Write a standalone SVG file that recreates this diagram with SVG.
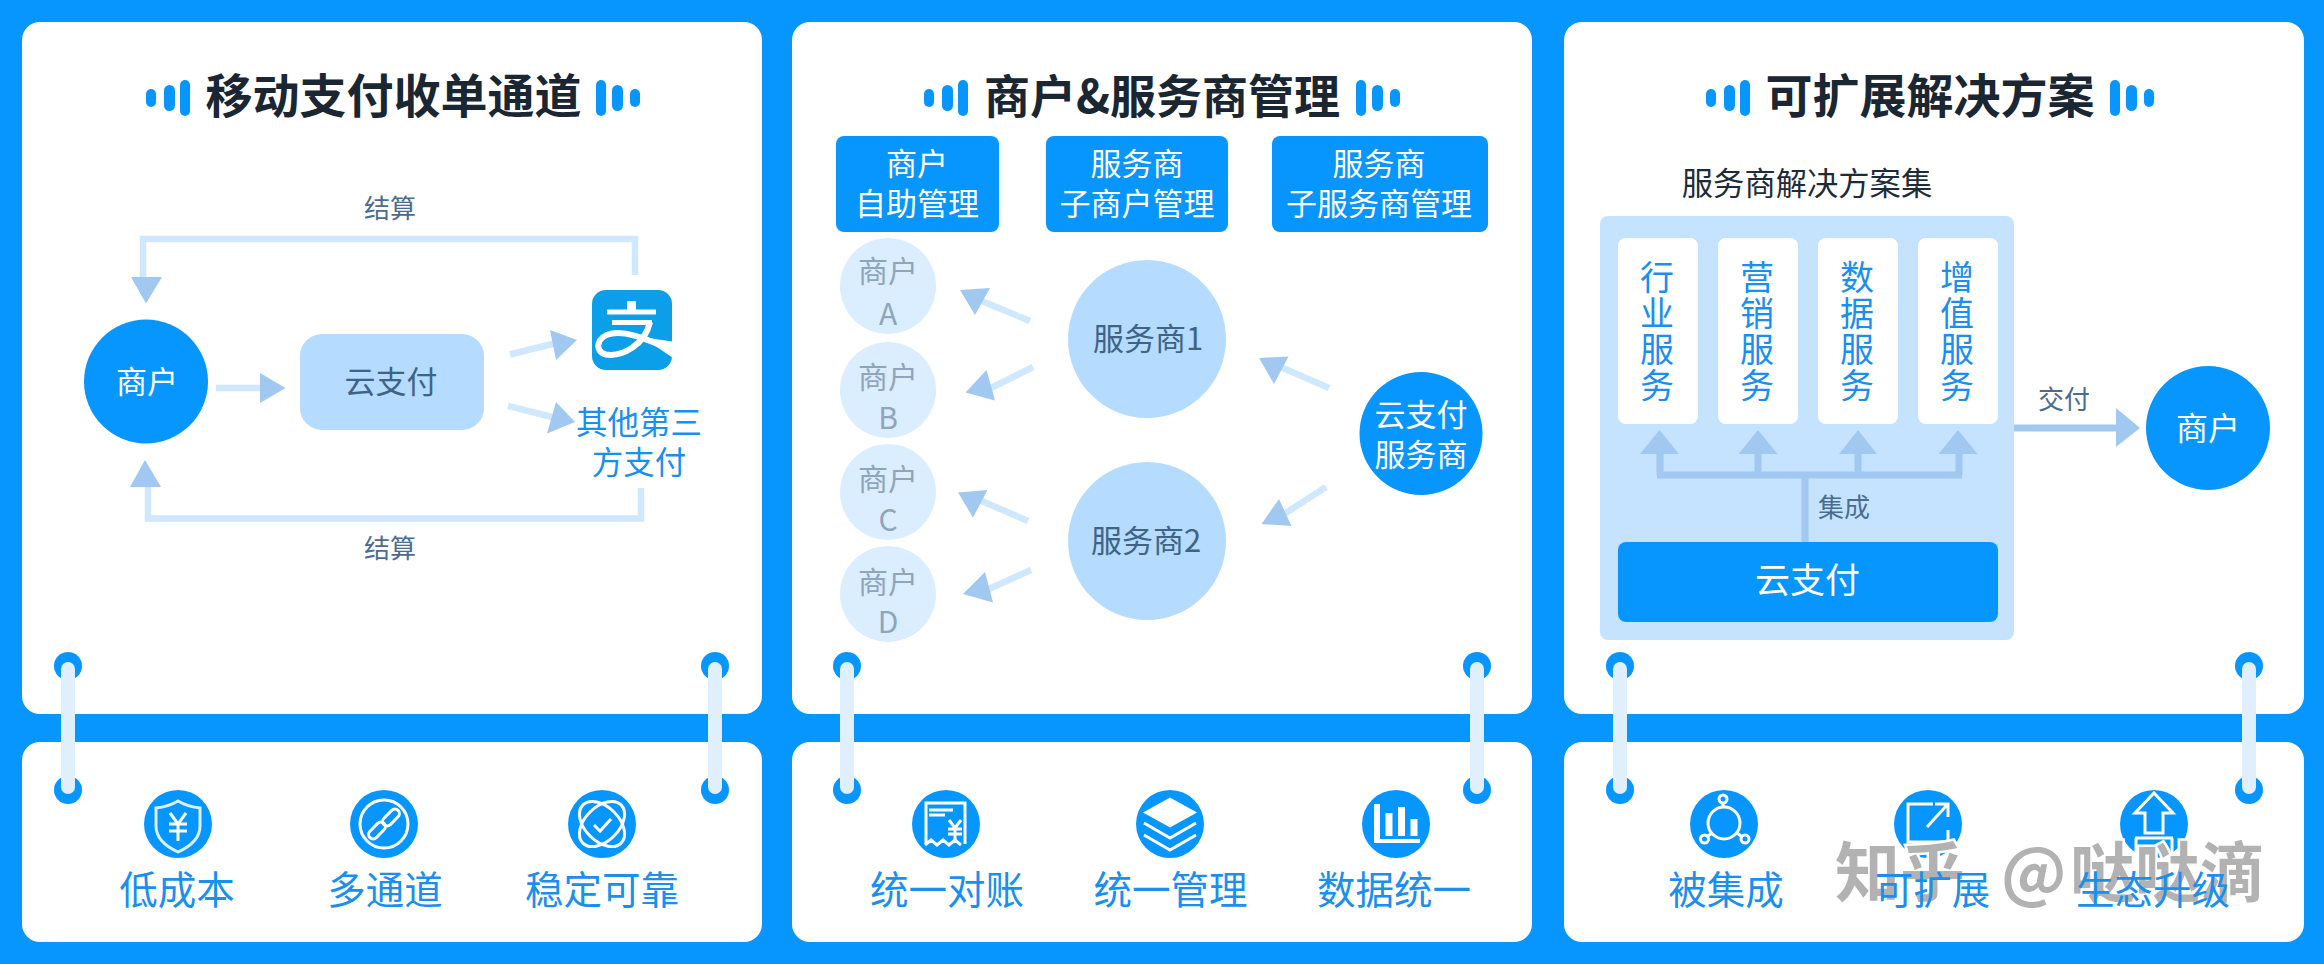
<svg xmlns="http://www.w3.org/2000/svg" width="2324" height="964" viewBox="0 0 2324 964">
<style>
text{font-family:"Noto Sans CJK SC","Noto Sans",sans-serif;text-anchor:middle}
.panel{fill:#fff}
.title{font-size:47px;font-weight:700;fill:#1a2632}
.pill{fill:#0795fe}
.blue{fill:#0795fe}
.lite{fill:#b5dcfe}
.pale{fill:#dbeeff}
.bar{fill:#e0effd}
.w{fill:#fff;font-size:31px}
.d{fill:#3f6387;font-size:31px}
.g{fill:#8fa5bb;font-size:30px}
.note{fill:#4a6d8f;font-size:26px}
.lab{fill:#1a8fee;font-size:38.5px}
.svc{fill:#1a8fee;font-size:34px}
.sub{fill:#1d2b3a;font-size:31.3px}
.st{fill:none;stroke:#cfe8fd;stroke-width:6.5}
.st2{fill:none;stroke:#a0c8f0;stroke-width:7}
.hd{fill:#a0c8f0}
.ic{fill:none;stroke:#fff;stroke-width:3}
.icf{fill:#fff}
.wm{font-size:65px;font-weight:700;text-anchor:start;fill:#b2b2b2;stroke:#fff;stroke-width:5px;paint-order:stroke}
.other{fill:#1a8fee;font-size:31.5px}
</style>
<defs>
<g id="pillsL"><rect class="pill" x="0" y="-9" width="10" height="18" rx="5"/><rect class="pill" x="18" y="-13" width="11" height="26" rx="5.5"/><rect class="pill" x="34" y="-18" width="10" height="36" rx="5"/></g>
<g id="pillsR"><rect class="pill" x="0" y="-18" width="10" height="36" rx="5"/><rect class="pill" x="16" y="-13" width="11" height="26" rx="5.5"/><rect class="pill" x="34" y="-9" width="10" height="18" rx="5"/></g>
<g id="ring"><circle class="blue" cx="0" cy="666" r="14"/><circle class="blue" cx="0" cy="790" r="14"/><rect class="bar" x="-7" y="662" width="14" height="132" rx="7"/></g>
<clipPath id="aliclip"><rect x="592" y="290" width="80" height="80" rx="14"/></clipPath>
</defs>
<rect width="2324" height="964" class="blue"/>
<g id="panels">
<rect class="panel" x="22" y="22" width="740" height="692" rx="18"/>
<rect class="panel" x="792" y="22" width="740" height="692" rx="18"/>
<rect class="panel" x="1564" y="22" width="740" height="692" rx="18"/>
<rect class="panel" x="22" y="742" width="740" height="200" rx="18"/>
<rect class="panel" x="792" y="742" width="740" height="200" rx="18"/>
<rect class="panel" x="1564" y="742" width="740" height="200" rx="18"/>
</g>
<g id="rings">
<use href="#ring" x="68"/><use href="#ring" x="715"/>
<use href="#ring" x="847"/><use href="#ring" x="1477"/>
<use href="#ring" x="1620"/><use href="#ring" x="2249"/>
</g>
<g id="titles">
<use href="#pillsL" x="146" y="98"/><text class="title" x="393.5" y="113">移动支付收单通道</text><use href="#pillsR" x="596" y="98"/>
<use href="#pillsL" x="924" y="98"/><text class="title" style="font-size:46px" x="1162" y="113">商户&amp;服务商管理</text><use href="#pillsR" x="1356" y="98"/>
<use href="#pillsL" x="1706" y="98"/><text class="title" x="1930" y="113">可扩展解决方案</text><use href="#pillsR" x="2110" y="98"/>
</g>
<g id="connectors">
<path class="st" d="M635 275V239H143V278"/><polygon class="hd" points="131,277 162,277 146,303.5"/>
<path class="st" d="M641 488V518.5H148V486"/><polygon class="hd" points="130,487 161,487 145,460"/>
<path class="st" d="M216 388H262"/><polygon class="hd" points="260,373 260,403 285.5,388"/>
<path class="st" d="M510 354.5L556 343"/><polygon class="hd" points="550,330 577,340 556,360"/>
<path class="st" d="M508 406L556 418"/><polygon class="hd" points="556,402 575,422 547,433.5"/>
<path class="st" d="M1030 321L977 299"/><polygon class="hd" points="960,290 990,288 975,315"/>
<path class="st" d="M1033 367L985 391"/><polygon class="hd" points="965.5,392.5 986.5,370 995,400.5"/>
<path class="st" d="M1028 521L975 498"/><polygon class="hd" points="958,492.5 987.5,490 973,517.5"/>
<path class="st" d="M1031 570L982 592"/><polygon class="hd" points="963,594 985,572 993,602.5"/>
<path class="st" d="M1329 388L1276 365"/><polygon class="hd" points="1259,358 1288.5,356.5 1274,384"/>
<path class="st" d="M1326 487L1278 518"/><polygon class="hd" points="1261.5,524 1279,499 1291.5,526"/>
</g>
<g id="merchant1"><circle class="blue" cx="146" cy="381.5" r="62"/><text class="w" x="147" y="393">商户</text></g>
<g id="yunzhifu1"><rect class="lite" x="300" y="334" width="184" height="96" rx="22"/><text class="d" x="391" y="393">云支付</text></g>
<g id="alipay"><rect fill="#0a9fe8" x="592" y="290" width="80" height="80" rx="14"/>
<g clip-path="url(#aliclip)"><rect class="icf" x="627" y="301" width="9" height="11"/><rect class="icf" x="607" y="309.5" width="49" height="5"/><rect class="icf" x="612" y="320" width="40" height="5"/>
<path fill="none" stroke="#fff" stroke-width="6" d="M650 322C645 345 622 357 606 354.500C594 352 596 336 612 333.500C628 331 645 339 673 350"/><polygon class="icf" points="642,337 676,342 676,360"/></g></g>
<g id="otherpay"><text class="other" x="639" y="434">其他第三</text><text class="other" x="639" y="474">方支付</text></g>
<g id="settle1"><text class="note" x="390" y="218">结算</text></g>
<g id="settle2"><text class="note" x="390" y="558">结算</text></g>
<g id="f1"><circle class="blue" cx="178" cy="824" r="34"/>
<path class="ic" stroke-opacity=".85" d="M178 801Q188 807 200 808V826Q200 842 178 852Q156 842 156 826V808Q168 807 178 801Z"/>
<path class="ic" d="M170 813L178 824L186 813M169 824H187M169 831H187M178 824V841"/>
<text class="lab" x="177" y="904">低成本</text></g>
<g id="f2"><circle class="blue" cx="384" cy="824" r="34"/><circle class="ic" cx="384" cy="824" r="24"/>
<rect class="ic" x="367" y="826" width="20" height="9" rx="4.500" transform="rotate(-45 377 830.500)"/><rect class="ic" x="381" y="813" width="20" height="9" rx="4.500" transform="rotate(-45 391 817.500)"/>
<text class="lab" x="385" y="904">多通道</text></g>
<g id="f3"><circle class="blue" cx="602" cy="824" r="34"/><ellipse class="ic" cx="602" cy="824" rx="27" ry="17" transform="rotate(45 602 824)"/><ellipse class="ic" cx="602" cy="824" rx="27" ry="17" transform="rotate(-45 602 824)"/><path class="ic" d="M594 825L600 831L611 819"/>
<text class="lab" x="602" y="904">稳定可靠</text></g>
<g id="btn1"><rect class="blue" x="836" y="136" width="163" height="96" rx="8"/><text class="w" x="917" y="175">商户</text><text class="w" x="917" y="215">自助管理</text></g>
<g id="btn2"><rect class="blue" x="1046" y="136" width="182" height="96" rx="8"/><text class="w" x="1137" y="175">服务商</text><text class="w" x="1137" y="215">子商户管理</text></g>
<g id="btn3"><rect class="blue" x="1272" y="136" width="216" height="96" rx="8"/><text class="w" x="1379" y="175">服务商</text><text class="w" x="1379" y="215">子服务商管理</text></g>
<g id="mA"><circle class="pale" cx="888" cy="286" r="48"/><text class="g" x="888" y="282">商户</text><text class="g" x="888" y="324.500">A</text></g>
<g id="mB"><circle class="pale" cx="888" cy="390" r="48"/><text class="g" x="888" y="388">商户</text><text class="g" x="888" y="429">B</text></g>
<g id="mC"><circle class="pale" cx="888" cy="492" r="48"/><text class="g" x="888" y="489.500">商户</text><text class="g" x="888" y="530.500">C</text></g>
<g id="mD"><circle class="pale" cx="888" cy="594" r="48"/><text class="g" x="888" y="592.500">商户</text><text class="g" x="888" y="632.500">D</text></g>
<g id="sp1"><circle class="lite" cx="1147" cy="339" r="79"/><text class="d" x="1148" y="350">服务商1</text></g>
<g id="sp2"><circle class="lite" cx="1147" cy="541" r="79"/><text class="d" x="1146" y="552">服务商2</text></g>
<g id="cloudsp"><circle class="blue" cx="1421" cy="433.500" r="61.500"/><text class="w" x="1421" y="425.500">云支付</text><text class="w" x="1421" y="465.500">服务商</text></g>
<g id="f4"><circle class="blue" cx="946" cy="824" r="34"/>
<path class="ic" d="M926 844V803H965V844"/><path class="ic" stroke-width="2.500" d="M925 845L931 840L937 845L943 840L949 845L955 840L961 845"/><path class="ic" d="M929 810H953M929 815H945"/><path class="ic" d="M949 820L955 828L961 820M948 829H962M948 834H962M955 828V841"/>
<text class="lab" x="947" y="904">统一对账</text></g>
<g id="f5"><circle class="blue" cx="1170" cy="824" r="34"/><polygon class="icf" points="1170,797.500 1197,812.500 1170,827.500 1143,812.500"/>
<path class="ic" stroke-width="4" d="M1144 823L1170 838L1196 823M1144 835L1170 850L1196 835"/>
<text class="lab" x="1170.500" y="904">统一管理</text></g>
<g id="f6"><circle class="blue" cx="1396" cy="824" r="34"/><path class="icf" d="M1374 804H1380V839H1420V843H1374Z"/><rect class="icf" x="1385.500" y="813" width="7" height="23"/><rect class="icf" x="1398" y="807" width="7" height="29"/><rect class="icf" x="1410.500" y="819" width="7" height="17"/>
<text class="lab" x="1394" y="904">数据统一</text></g>
<g id="solset"><text class="sub" x="1807" y="195">服务商解决方案集</text></g>
<g id="solbox"><rect fill="#c5e3fe" x="1600" y="216" width="414" height="424" rx="8"/></g>
<g id="svc1"><rect class="panel" x="1618" y="238" width="80" height="186" rx="8"/><text class="svc" x="1657" y="290">行</text><text class="svc" x="1657" y="326">业</text><text class="svc" x="1657" y="362">服</text><text class="svc" x="1657" y="398">务</text></g>
<g id="svc2"><rect class="panel" x="1718" y="238" width="80" height="186" rx="8"/><text class="svc" x="1757" y="290">营</text><text class="svc" x="1757" y="326">销</text><text class="svc" x="1757" y="362">服</text><text class="svc" x="1757" y="398">务</text></g>
<g id="svc3"><rect class="panel" x="1818" y="238" width="80" height="186" rx="8"/><text class="svc" x="1857" y="290">数</text><text class="svc" x="1857" y="326">据</text><text class="svc" x="1857" y="362">服</text><text class="svc" x="1857" y="398">务</text></g>
<g id="svc4"><rect class="panel" x="1918" y="238" width="80" height="186" rx="8"/><text class="svc" x="1957" y="290">增</text><text class="svc" x="1957" y="326">值</text><text class="svc" x="1957" y="362">服</text><text class="svc" x="1957" y="398">务</text></g>
<g id="connectors3">
<path class="st2" d="M1805 542V475M1657 475H1962M1660 475V452M1758 475V452M1858 475V452M1959 475V452"/>
<polygon class="hd" points="1640,454 1679,454 1659.500,430"/><polygon class="hd" points="1738.500,454 1777.500,454 1758,430"/><polygon class="hd" points="1839,454 1877,454 1858,430"/><polygon class="hd" points="1938.500,454 1977.500,454 1958,430"/>
<path class="st2" d="M2014 428H2118"/><polygon class="hd" points="2116,408 2116,447 2140,428"/>
</g>
<g id="integrate"><text class="note" x="1844" y="517">集成</text></g>
<g id="deliver"><text class="note" x="2064" y="409">交付</text></g>
<g id="yunzhifu3"><rect class="blue" x="1618" y="542" width="380" height="80" rx="8"/><text class="w" style="font-size:35px" x="1807.500" y="593">云支付</text></g>
<g id="merchant3"><circle class="blue" cx="2208" cy="428" r="62"/><text class="w" style="font-size:32px" x="2208" y="440">商户</text></g>
<g id="f7"><circle class="blue" cx="1724" cy="824" r="34"/><circle class="ic" cx="1724" cy="823" r="16"/><circle class="ic" cx="1723" cy="799" r="4"/><circle class="ic" cx="1704.500" cy="839" r="4"/><circle class="ic" cx="1745" cy="839" r="4"/><path class="ic" d="M1723 803V807M1708 836L1712 833M1741 836L1737 833"/>
<text class="lab" x="1726" y="904">被集成</text></g>
<g id="f8icon"><circle class="blue" cx="1928" cy="824" r="34"/><path class="ic" stroke-width="4" d="M1933 804H1908V842H1948V830"/><path class="ic" d="M1927 827L1947 805M1935 804H1948V817"/></g>
<g id="f9icon"><circle class="blue" cx="2154" cy="824" r="34"/><path class="ic" stroke-width="3.500" d="M2154 793L2173 813H2163V833H2145V813H2135Z"/><path class="ic" d="M2135 838H2173M2136 838V856M2172 838V856"/></g>
<g id="watermark"><text class="wm" y="896"><tspan x="1835">知乎</tspan><tspan x="2001">@</tspan><tspan x="2070">哒哒滴</tspan></text></g>
<g id="f8"><text class="lab" x="1932.500" y="904">可扩展</text></g>
<g id="f9"><text class="lab" x="2153" y="904">生态升级</text></g>
</svg>
